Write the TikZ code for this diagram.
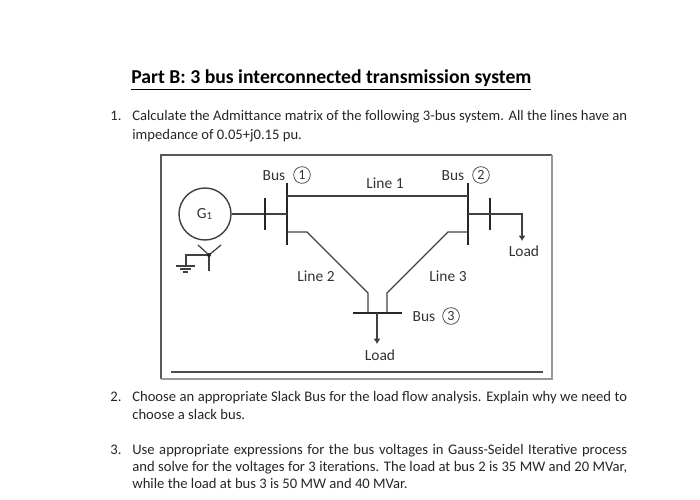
\documentclass[tikz,border=0pt]{standalone}
\usepackage{fontspec}
\setmainfont{Carlito}
\usepackage{tikz}
\usetikzlibrary{arrows.meta, positioning}

\newcommand{\itemno}[1]{\makebox[12.5pt][l]{#1}}
\newcommand{\fullline}[1]{\makebox[9.9cm][s]{#1}}

\tikzset{
  wire/.style={line width=0.7pt, black!75},
  busbar/.style={line width=1.2pt, black!85},
  txt/.style={font=\fontsize{8.32}{10}\selectfont, text=black!85, inner sep=0pt, anchor=base west},
  lbl/.style={font=\fontsize{8.8}{10}\selectfont, text=black!80, inner sep=0pt},
  num/.style={circle, draw=black!75, line width=0.4pt, inner sep=0pt, minimum size=9.5pt, font=\fontsize{8}{9}\selectfont, text=black!80}
}

\begin{document}
\begin{tikzpicture}[x=0.02cm, y=-0.02cm]
\useasboundingbox (0,0) rectangle (700,500);

% heading and questions
\node[txt, font=\fontsize{11.2}{12}\selectfont\bfseries, text=black] (title) at (131,84) {\underline{Part B: 3 bus interconnected transmission system}};
\node[txt] (q1a) at (110,121) {\itemno{1.}\fullline{Calculate the Admittance matrix of the following 3-bus system. All the lines have an}};
\node[txt] (q1b) at (132,139) {impedance of 0.05+j0.15 pu.};
\node[txt] (q2a) at (110,401) {\itemno{2.}\fullline{Choose an appropriate Slack Bus for the load flow analysis. Explain why we need to}};
\node[txt] (q2b) at (132,419) {choose a slack bus.};
\node[txt] (q3a) at (110,454) {\itemno{3.}\fullline{Use appropriate expressions for the bus voltages in Gauss-Seidel Iterative process}};
\node[txt] (q3b) at (132,471) {\fullline{and solve for the voltages for 3 iterations. The load at bus 2 is 35 MW and 20 MVar,}};
\node[txt] (q3c) at (132,488) {while the load at bus 3 is 50 MW and 40 MVar.};

% frame
\draw[line width=0.7pt, black!65] (161,379) -- (161,155) -- (552,155);
\draw[line width=0.7pt, black!40] (552,155) -- (552,379) -- (161,379);
\draw[line width=0.9pt, black!70] (171,372) -- (543,372);

% generator
\node[circle, draw=black!75, line width=0.8pt, minimum size=52*0.02cm, inner sep=0pt, lbl] (gen) at (205,214) {G\textsubscript{1}};

% buses
\coordinate (b1top) at (287,183);
\coordinate (b1bot) at (287,245);
\coordinate (b2top) at (468,183);
\coordinate (b2bot) at (468,245);
\coordinate (b3left) at (353,313);
\coordinate (b3right) at (402,313);
\draw[busbar] (b1top) -- (b1bot);
\draw[busbar] (b2top) -- (b2bot);
\draw[busbar] (b3left) -- (b3right);

% lines
\coordinate (l1a) at (287,196);
\coordinate (l1b) at (468,196);
\draw[wire] (l1a) -- (l1b);
\coordinate (g1b) at (287,214);
\draw[wire] (gen) -- (g1b);
\coordinate (l2a) at (287,232);
\coordinate (l2b) at (307,232);
\coordinate (l2c) at (368,293);
\coordinate (l2d) at (368,313);
\draw[wire] (l2a) -- (l2b) -- (l2c) -- (l2d);
\coordinate (l3a) at (468,232);
\coordinate (l3b) at (448,232);
\coordinate (l3c) at (387,293);
\coordinate (l3d) at (387,313);
\draw[wire] (l3a) -- (l3b) -- (l3c) -- (l3d);

% transformer ticks
\coordinate (t1a) at (265,198);
\coordinate (t1b) at (265,230);
\coordinate (t2a) at (490,198);
\coordinate (t2b) at (490,230);
\draw[line width=1pt, black!85] (t1a) -- (t1b);
\draw[line width=1pt, black!85] (t2a) -- (t2b);

% loads
\coordinate (ld2a) at (468,214);
\coordinate (ld2b) at (522,214);
\coordinate (ld2c) at (522,241);
\draw[wire, -{Latex[length=3pt,width=4pt]}] (ld2a) -- (ld2b) -- (ld2c);
\coordinate (ld3a) at (377,313);
\coordinate (ld3b) at (377,344);
\draw[wire, -{Latex[length=3pt,width=4pt]}] (ld3a) -- (ld3b);

% star point and ground
\coordinate (ystar) at (209,255);
\coordinate (yl) at (198,245);
\coordinate (yr) at (221,245);
\coordinate (yb) at (209,271);
\coordinate (gnda) at (186,255);
\coordinate (gndb) at (186,266);
\draw[wire] (yl) -- (ystar) -- (yr);
\draw[wire] (ystar) -- (yb);
\draw[wire] (ystar) -- (gnda) -- (gndb);
\fill[black!85] (ystar) circle (2);
\draw[wire] (176,266) -- (195,266);
\draw[wire] (180,269) -- (191,269);
\draw[wire] (183,272) -- (188,272);

% labels
\node[lbl] (bus1) at (274,176) {Bus};
\node[num] (n1) at (302,175) {1};
\node[lbl] (bus2) at (453,176) {Bus};
\node[num] (n2) at (481,175) {2};
\node[lbl] (bus3) at (424,317) {Bus};
\node[num] (n3) at (451,316) {3};
\node[lbl] (line1) at (385,183) {Line 1};
\node[lbl] (line2) at (316,276) {Line 2};
\node[lbl] (line3) at (448,276) {Line 3};
\node[lbl] (load2) at (524,251) {Load};
\node[lbl] (load3) at (380,355) {Load};
\end{tikzpicture}
\end{document}
